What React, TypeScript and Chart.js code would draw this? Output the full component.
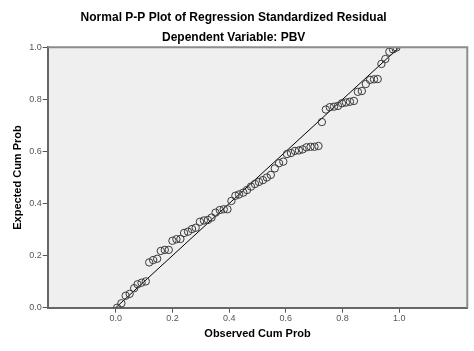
import React, { useEffect, useRef } from "react";
import { Chart, registerables } from "chart.js";

Chart.register(...registerables);

const observedCumProb = [
  0.005, 0.020, 0.035, 0.049, 0.065, 0.077, 0.091, 0.106, 0.118, 0.132,
  0.146, 0.159, 0.173, 0.187, 0.200, 0.214, 0.228, 0.241, 0.255, 0.269,
  0.282, 0.297, 0.311, 0.325, 0.338, 0.352, 0.367, 0.381, 0.394, 0.408,
  0.422, 0.435, 0.450, 0.463, 0.477, 0.491, 0.505, 0.519, 0.533, 0.547,
  0.561, 0.576, 0.591, 0.604, 0.618, 0.632, 0.646, 0.659, 0.673, 0.687,
  0.701, 0.715, 0.727, 0.741, 0.755, 0.770, 0.784, 0.798, 0.812, 0.826,
  0.840, 0.854, 0.868, 0.882, 0.897, 0.911, 0.924, 0.937, 0.951, 0.965,
  0.978, 0.990,
];

const expectedCumProb = [
  0.000, 0.017, 0.046, 0.053, 0.075, 0.090, 0.096, 0.101, 0.174, 0.183,
  0.188, 0.218, 0.222, 0.222, 0.257, 0.263, 0.264, 0.287, 0.292, 0.302,
  0.307, 0.330, 0.335, 0.337, 0.346, 0.365, 0.375, 0.378, 0.378, 0.410,
  0.430, 0.435, 0.442, 0.452, 0.465, 0.475, 0.483, 0.490, 0.500, 0.510,
  0.535, 0.555, 0.561, 0.590, 0.594, 0.602, 0.604, 0.608, 0.616, 0.618,
  0.618, 0.621, 0.713, 0.761, 0.770, 0.772, 0.775, 0.785, 0.788, 0.791,
  0.794, 0.829, 0.832, 0.859, 0.875, 0.877, 0.878, 0.936, 0.955, 0.983,
  0.992, 0.999,
];

const referenceLineX = [0, 1];
const referenceLineY = [0, 1];

const xTickValues = [0, 0.2, 0.4, 0.6, 0.8, 1.0];
const yTickValues = [0, 0.2, 0.4, 0.6, 0.8, 1.0];

const titleText = "Normal P-P Plot of Regression Standardized Residual";
const subtitleText = "Dependent Variable: PBV";
const xAxisTitle = "Observed Cum Prob";
const yAxisTitle = "Expected Cum Prob";

const FONT = "'Liberation Sans', Arial, Helvetica, sans-serif";

const plotAreaPlugin = {
  id: "plotArea",
  beforeDraw(chart: any) {
    const { ctx, chartArea } = chart;
    const { left, top, right, bottom } = chartArea;
    ctx.save();
    ctx.fillStyle = "#ffffff";
    ctx.fillRect(0, 0, chart.width, chart.height);
    ctx.fillStyle = "#efefef";
    ctx.fillRect(left, top, right - left, bottom - top);
    ctx.restore();
  },
  afterDraw(chart: any) {
    const { ctx, chartArea } = chart;
    const { left, top, right, bottom } = chartArea;
    ctx.save();
    ctx.strokeStyle = "#8c8c8c";
    ctx.lineWidth = 2;
    ctx.beginPath();
    ctx.moveTo(left, top);
    ctx.lineTo(right, top);
    ctx.lineTo(right, bottom);
    ctx.stroke();
    ctx.restore();
  },
};

export default function App() {
  const canvasRef = useRef<HTMLCanvasElement | null>(null);

  useEffect(() => {
    const canvas = canvasRef.current;
    if (!canvas) return;

    const points = observedCumProb.map((x, i) => ({ x, y: expectedCumProb[i] }));
    const line = referenceLineX.map((x, i) => ({ x, y: referenceLineY[i] }));

    const chart = new Chart(canvas, {
      type: "scatter",
      data: {
        datasets: [
          {
            type: "line",
            data: line,
            borderColor: "#000000",
            borderWidth: 1,
            pointRadius: 0,
            fill: false,
            order: 2,
          } as any,
          {
            type: "scatter",
            data: points,
            pointStyle: "circle",
            pointRadius: 3.7,
            borderColor: "#3a3a3a",
            borderWidth: 1,
            backgroundColor: "rgba(0,0,0,0)",
            order: 1,
          } as any,
        ],
      },
      options: {
        animation: false,
        responsive: false,
        devicePixelRatio: 1,
        layout: { padding: { left: 0, right: 6.7, top: 0, bottom: 0 } },
        plugins: {
          legend: { display: false },
          tooltip: { enabled: false },
          title: {
            display: true,
            text: titleText,
            color: "#000000",
            font: { family: FONT, size: 12, weight: "bold" },
            padding: { top: 10, bottom: 4 },
          },
          subtitle: {
            display: true,
            text: subtitleText,
            color: "#000000",
            font: { family: FONT, size: 12, weight: "bold" },
            padding: { top: 2.4, bottom: 2.1 },
          },
        },
        scales: {
          x: {
            type: "linear",
            min: -0.24,
            max: 1.24,
            afterBuildTicks: (scale: any) => {
              scale.ticks = xTickValues.map((v) => ({ value: v }));
            },
            afterFit: (scale: any) => {
              scale.height = 43.3;
            },
            ticks: {
              color: "#555555",
              font: { family: FONT, size: 9 },
              padding: 0.5,
              maxRotation: 0,
              autoSkip: false,
              callback: (v: any) => Number(v).toFixed(1),
            },
            grid: {
              drawOnChartArea: false,
              drawTicks: true,
              tickLength: 5,
              color: "#555555",
              lineWidth: 1,
            },
            border: { display: true, color: "#666666", width: 2 },
            title: {
              display: true,
              text: xAxisTitle,
              color: "#000000",
              font: { family: FONT, size: 11, weight: "bold" },
              padding: { top: 0, bottom: 10 },
            },
          },
          y: {
            type: "linear",
            min: 0,
            max: 1,
            afterBuildTicks: (scale: any) => {
              scale.ticks = yTickValues.map((v) => ({ value: v }));
            },
            afterFit: (scale: any) => {
              scale.width = 47.7;
            },
            ticks: {
              color: "#555555",
              font: { family: FONT, size: 9 },
              padding: 1,
              autoSkip: false,
              callback: (v: any) => Number(v).toFixed(1),
            },
            grid: {
              drawOnChartArea: false,
              drawTicks: true,
              tickLength: 5,
              color: "#555555",
              lineWidth: 1,
            },
            border: { display: true, color: "#666666", width: 2 },
            title: {
              display: true,
              text: yAxisTitle,
              color: "#000000",
              font: { family: FONT, size: 11, weight: "bold" },
              padding: { top: 11.4, bottom: 0 },
            },
          },
        },
      },
      plugins: [plotAreaPlugin],
    });

    return () => {
      chart.destroy();
    };
  }, []);

  return (
    <div style={{ position: "absolute", left: 0, top: 0, width: 474, height: 351 }}>
      <canvas ref={canvasRef} width={474} height={351} style={{ width: 474, height: 351, display: "block" }} />
    </div>
  );
}
